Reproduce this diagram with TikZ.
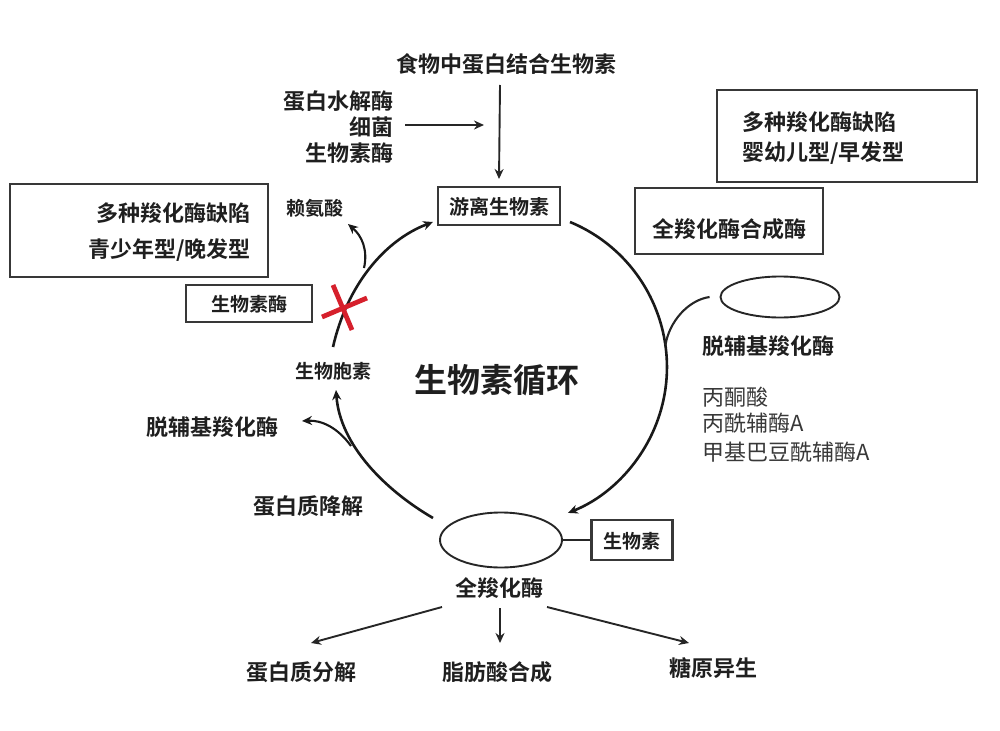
\documentclass[tikz,border=0pt]{standalone}
\usepackage{fontspec}
\setmainfont{Noto Sans CJK SC}[BoldFont={Noto Sans CJK SC Bold}]
\usetikzlibrary{arrows.meta,shapes.geometric}
\begin{document}
\begin{tikzpicture}[x=1pt,y=-1pt,
  lab/.style={font=\bfseries\fontsize{#1}{#1}\selectfont, text=black!88, inner sep=0pt},
  reg/.style={font=\fontsize{#1}{#1}\selectfont, text=black!78, inner sep=0pt},
  boxnode/.style={draw=black!78, line width=2.2pt, rectangle, inner sep=0pt},
  ellnode/.style={draw=black!85, line width=1.9pt, ellipse, inner sep=0pt},
  cyc/.style={draw=black!90, line width=2.6pt},
  thin/.style={draw=black!85, line width=1.9pt},
  arr/.style={-{Stealth[length=10pt,width=9pt]}},
  cross/.style={draw={rgb,255:red,214;green,32;blue,44}, line width=4.8pt}
]
\useasboundingbox (0,0) rectangle (1000,730);

% top
\node[lab=22] (food) at (506,64) {食物中蛋白结合生物素};
\node[lab=22, anchor=east] (h1) at (394,101) {蛋白水解酶};
\node[lab=22, anchor=east] (h2) at (394,127) {细菌};
\node[lab=22, anchor=east] (h3) at (394,153) {生物素酶};
\node[boxnode, minimum width=122, minimum height=38] (free) at (499,206) {};
\node[lab=20] (freet) at (499,207) {游离生物素};
\coordinate (harr) at (484,125);
\draw[thin, arr] ([xshift=11pt]h2.east |- harr) -- (harr);
\draw[thin, arr] (500,85) -- (free.north |- 0,179);

% left boxes
\node[boxnode, minimum width=258, minimum height=93] (lbox) at (139,230.5) {};
\node[lab=22, anchor=east] (lb1) at (251,213) {多种羧化酶缺陷};
\node[lab=22, anchor=east] (lb2) at (251,250) {青少年型/晚发型};
\node[boxnode, minimum width=126, minimum height=37] (bioase) at (249,303.5) {};
\node[lab=19] (bioaset) at (249,304) {生物素酶};
\node[lab=19] (lys) at (315,208) {赖氨酸};
\node[lab=19] (bcyt) at (333,371) {生物胞素};
\node[lab=22] (apoL) at (212,427) {脱辅基羧化酶};
\node[lab=22] (degr) at (308,506) {蛋白质降解};
\node[lab=33] (title) at (497,380) {生物素循环};

% right boxes
\node[boxnode, minimum width=260, minimum height=92] (rbox) at (847,136) {};
\node[lab=22, anchor=west] (rb1) at (742,122) {多种羧化酶缺陷};
\node[lab=22, anchor=west] (rb2) at (742,153) {婴幼儿型/早发型};
\node[boxnode, minimum width=188, minimum height=66] (hcs) at (729,221) {};
\node[lab=22] (hcst) at (729,229) {全羧化酶合成酶};
\node[ellnode, minimum width=119, minimum height=41] (ellR) at (780,297) {};
\node[lab=22] (apoR) at (768,346) {脱辅基羧化酶};
\node[reg=22, anchor=west] (s1) at (702,397) {丙酮酸};
\node[reg=22, anchor=west] (s2) at (702,423) {丙酰辅酶A};
\node[reg=22, anchor=west] (s3) at (702,452) {甲基巴豆酰辅酶A};

% bottom
\node[ellnode, minimum width=122, minimum height=55] (ellB) at (501,540) {};
\node[boxnode, minimum width=81, minimum height=40] (bio) at (632,540) {};
\node[lab=19] (biot) at (632,541) {生物素};
\draw[thin, line width=2.4pt] (ellB.east) -- (bio.west);
\node[lab=22] (holo) at (499,588) {全羧化酶};
\node[lab=22] (o1) at (301,672) {蛋白质分解};
\node[lab=22] (o2) at (497,672) {脂肪酸合成};
\node[lab=22] (o3) at (713,668) {糖原异生};
\coordinate (b1) at (442,607);
\coordinate (b2) at (500,608);
\coordinate (b3) at (547,607);
\coordinate (e1) at (311,643);
\coordinate (e2) at (500,643);
\coordinate (e3) at (689,643);
\draw[thin, arr] (b1) -- (e1);
\draw[thin, arr] (b2) -- (e2);
\draw[thin, arr] (b3) -- (e3);

% cycle
\coordinate (r1) at (570,222);
\draw[cyc, arr] (r1) arc[start angle=-67.5, end angle=68.3, radius=157];
\coordinate (rj) at (665.5,345);
\draw[thin, line width=2.1pt] ([xshift=-10pt]ellR.west) .. controls (688,300) and (669,322) .. (rj);

\coordinate (l1) at (433,518);
\coordinate (l2) at (336,390);
\draw[cyc, arr] (l1) .. controls (385,490) and (340,445) .. (l2);
\coordinate (lb) at (351,446);
\coordinate (lt) at (302,421);
\draw[cyc, line width=2.1pt, arr] (lb) .. controls (338,428) and (322,420) .. (lt);

\coordinate (u1) at (333,347);
\coordinate (u2) at (433,222);
\draw[cyc, arr] (u1) .. controls (347,285) and (385,240) .. (u2);
\coordinate (ub) at (364,268);
\coordinate (ut) at (348,224);
\draw[cyc, line width=2.1pt, arr] (ub) .. controls (368,250) and (362,236) .. (ut);

% red cross
\coordinate (x1) at (322,317);
\coordinate (x2) at (367,298);
\coordinate (x3) at (333,285);
\coordinate (x4) at (352,330);
\draw[cross] (x1) -- (x2);
\draw[cross] (x3) -- (x4);
\end{tikzpicture}
\end{document}
